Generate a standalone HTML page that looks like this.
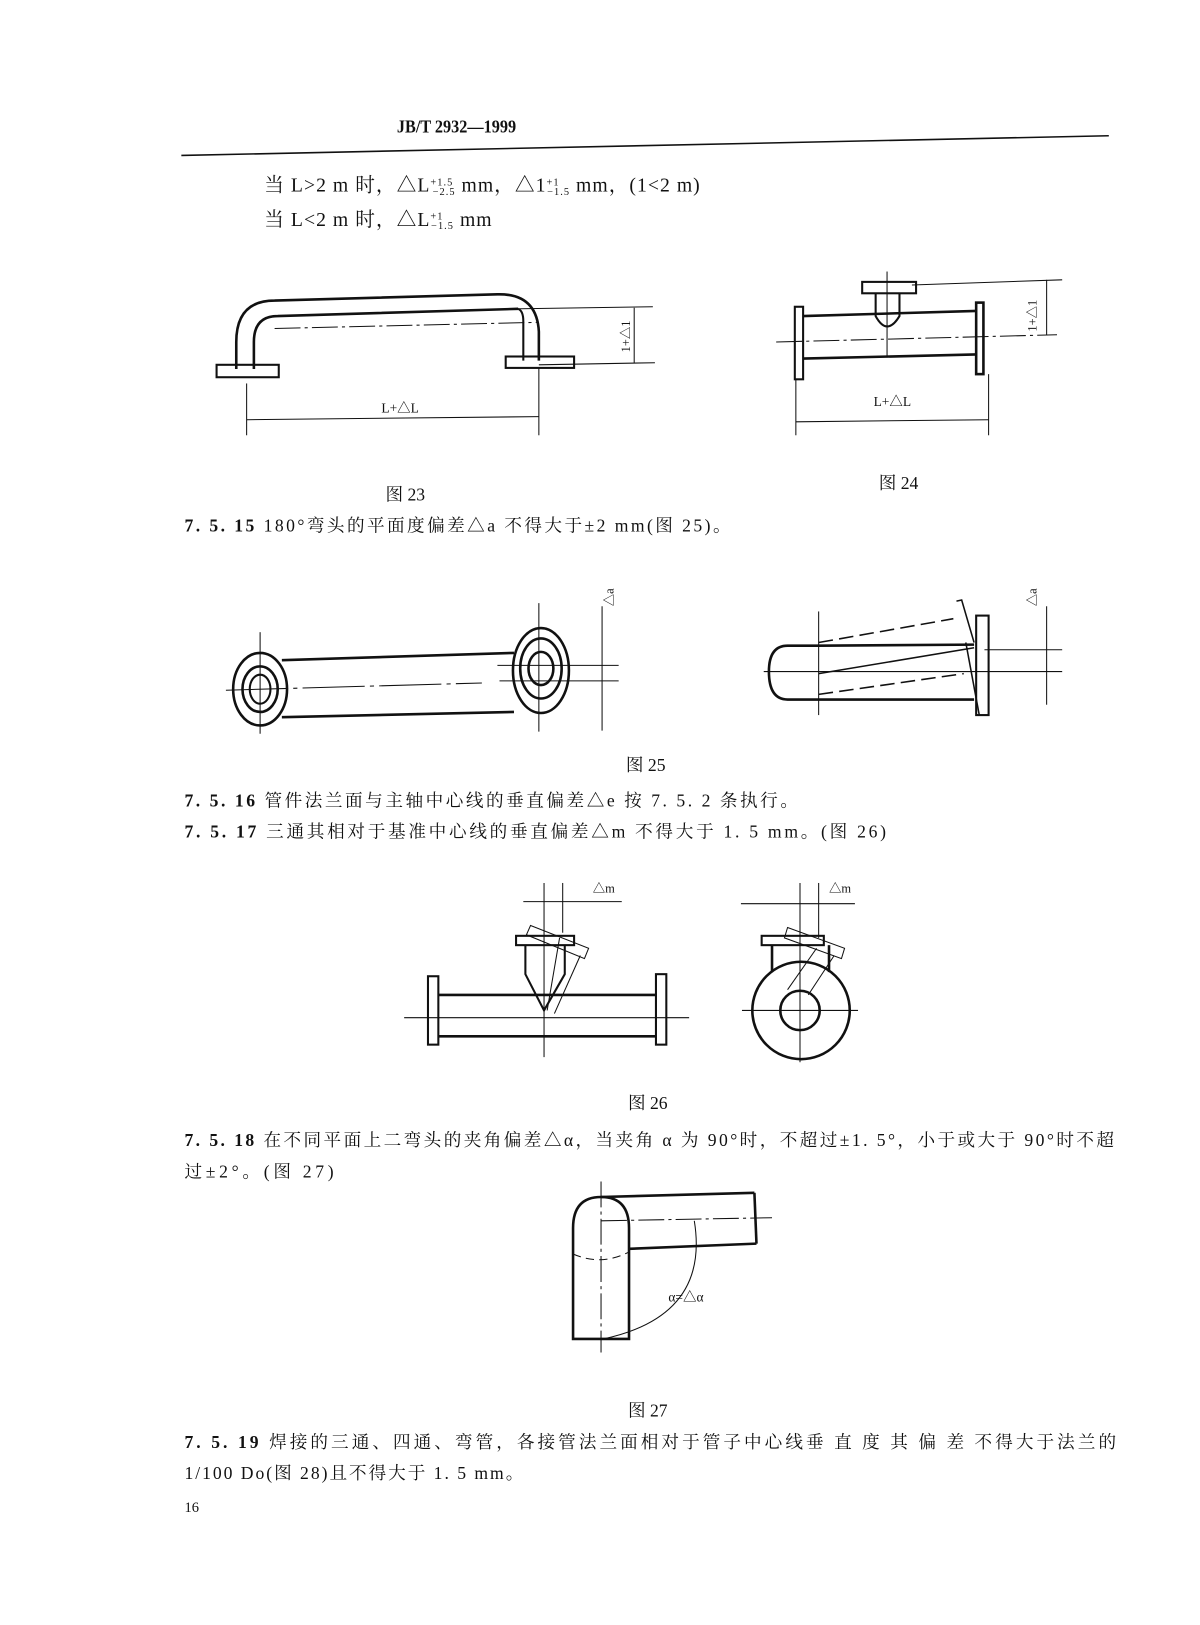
<!DOCTYPE html>
<html><head><meta charset="utf-8"><style>
html,body{margin:0;padding:0;background:#fff;}
svg{display:block}
text{font-family:"Liberation Serif","Noto Serif CJK SC","Noto Sans CJK SC",serif;fill:#111;}
</style></head><body>
<svg width="1200" height="1625" viewBox="0 0 1158 1568" preserveAspectRatio="none" xmlns="http://www.w3.org/2000/svg" stroke="#111" fill="none">
<g stroke="none" fill="#111">
<text x="383" y="128" font-size="17" font-weight="bold" textLength="115" lengthAdjust="spacingAndGlyphs">JB/T 2932—1999</text>
<text x="255" y="185" font-size="19" letter-spacing="1">当 L&gt;2 m 时，△L<tspan font-size="10" dy="-6">+1.5</tspan><tspan font-size="10" dx="-20" dy="9">−2.5</tspan><tspan dy="-3"> mm，△1</tspan><tspan font-size="10" dy="-6">+1</tspan><tspan font-size="10" dx="-12" dy="9">−1.5</tspan><tspan dy="-3"> mm，(1&lt;2 m)</tspan></text>
<text x="255" y="218" font-size="19" letter-spacing="1">当 L&lt;2 m 时，△L<tspan font-size="10" dy="-6">+1</tspan><tspan font-size="10" dx="-12" dy="9">−1.5</tspan><tspan dy="-3"> mm</tspan></text>
<text x="372" y="483" font-size="17">图 23</text>
<text x="848" y="472" font-size="17">图 24</text>
<text x="178" y="513" font-size="17" textLength="527" lengthAdjust="spacing"><tspan font-weight="bold">7. 5. 15</tspan>   180°弯头的平面度偏差△a 不得大于±2 mm(图 25)。</text>
<text x="604" y="744" font-size="17">图 25</text>
<text x="178" y="778" font-size="17" textLength="592" lengthAdjust="spacing"><tspan font-weight="bold">7. 5. 16</tspan>   管件法兰面与主轴中心线的垂直偏差△e 按 7. 5. 2 条执行。</text>
<text x="178" y="808" font-size="17" textLength="677" lengthAdjust="spacing"><tspan font-weight="bold">7. 5. 17</tspan>   三通其相对于基准中心线的垂直偏差△m 不得大于 1. 5 mm。(图 26)</text>
<text x="606" y="1070" font-size="17">图 26</text>
<text x="178" y="1106" font-size="17" textLength="897" lengthAdjust="spacing"><tspan font-weight="bold">7. 5. 18</tspan>   在不同平面上二弯头的夹角偏差△α，当夹角 α 为 90°时，不超过±1. 5°，小于或大于 90°时不超</text>
<text x="178" y="1136" font-size="17" textLength="144" lengthAdjust="spacing">过±2°。(图 27)</text>
<text x="606" y="1367" font-size="17">图 27</text>
<text x="178" y="1397" font-size="17" textLength="899" lengthAdjust="spacing"><tspan font-weight="bold">7. 5. 19</tspan>   焊接的三通、四通、弯管，各接管法兰面相对于管子中心线垂 直 度 其 偏 差 不得大于法兰的</text>
<text x="178" y="1427" font-size="17" textLength="327" lengthAdjust="spacing">1/100 Do(图 28)且不得大于 1. 5 mm。</text>
<text x="178" y="1459" font-size="14">16</text>
<text x="368" y="398" font-size="13">L+△L</text>
<text x="843" y="392" font-size="13">L+△L</text>
<text x="645" y="1256" font-size="13">α=△α</text>
<text x="572" y="861" font-size="12">△m</text>
<text x="800" y="861" font-size="12">△m</text>
</g>
<line x1="175" y1="150" x2="1070" y2="131" stroke-width="1.5"/>
<g stroke-width="2.5">
<path d="M228 356 L228 330 Q228 290 265 290 L480 284 Q518 283 520 320 L520 348"/>
<path d="M245 356 L245 330 Q245 305 268 305 L500 298"/>
<path d="M500 298 Q505 300 505 310 L505 348" stroke-width="2"/>
<rect x="209" y="352" width="60" height="12" stroke-width="2"/>
<rect x="488" y="344" width="66" height="11" stroke-width="2"/>
</g>
<g stroke-width="1">
<line x1="265" y1="317" x2="520" y2="311" stroke-dasharray="25 4 3 4"/>
<line x1="495" y1="298" x2="630" y2="296"/><line x1="520" y1="352" x2="632" y2="350"/>
<line x1="612" y1="297" x2="612" y2="350"/>
<line x1="238" y1="370" x2="238" y2="420"/><line x1="520" y1="355" x2="520" y2="420"/>
<line x1="238" y1="405" x2="520" y2="402"/>
</g>
<text x="608" y="340" font-size="12" transform="rotate(-90 608 340)" stroke="none" fill="#111" font-family="Liberation Sans">1+△1</text>
<g stroke-width="2.5">
<rect x="767" y="296" width="8" height="70" stroke-width="2"/>
<rect x="942" y="292" width="7" height="69"/>
<line x1="775" y1="305" x2="942" y2="300"/><line x1="775" y1="346" x2="942" y2="342"/>
<rect x="832" y="272" width="52" height="11" stroke-width="2"/>
<path d="M845 283 L845 305 Q856 325 868 305 L868 283" stroke-width="2"/>
</g>
<g stroke-width="1">
<line x1="749" y1="330" x2="1020" y2="323" stroke-dasharray="25 4 3 4"/>
<line x1="856" y1="262" x2="856" y2="345"/>
<line x1="880" y1="275" x2="1025" y2="270"/>
<line x1="1010" y1="270" x2="1010" y2="323"/>
<line x1="768" y1="366" x2="768" y2="420"/><line x1="954" y1="361" x2="954" y2="420"/>
<line x1="768" y1="407" x2="954" y2="405"/>
</g>
<text x="1000" y="320" font-size="12" transform="rotate(-90 1000 320)" stroke="none" fill="#111" font-family="Liberation Sans">1+△1</text>
<g stroke-width="2.5">
<ellipse cx="251" cy="665" rx="26" ry="35"/><ellipse cx="251" cy="665" rx="17" ry="22"/>
<ellipse cx="251" cy="665" rx="10" ry="14" stroke-width="2"/>
<ellipse cx="522" cy="647" rx="27" ry="41"/><ellipse cx="522" cy="645" rx="20" ry="29"/>
<ellipse cx="522" cy="645" rx="12" ry="16"/>
<line x1="272" y1="637" x2="496" y2="630"/><line x1="272" y1="692" x2="496" y2="687"/>
</g>
<g stroke-width="1">
<line x1="218" y1="666" x2="465" y2="659" stroke-dasharray="60 5 4 5"/>
<line x1="251" y1="610" x2="251" y2="708"/>
<line x1="520" y1="582" x2="520" y2="706"/>
<line x1="480" y1="642" x2="597" y2="642"/>
<line x1="482" y1="657" x2="597" y2="657"/>
<line x1="581" y1="585" x2="581" y2="705"/>
</g>
<text x="592" y="585" font-size="12" transform="rotate(-90 592 585)" stroke="none" fill="#111" font-family="Liberation Sans">△a</text>
<g stroke-width="2.5">
<path d="M790 623 L760 623 Q742 623 742 648 Q742 675 760 675 L940 675"/>
<line x1="790" y1="623" x2="940" y2="622"/>
<rect x="942" y="594" width="12" height="96" stroke-width="2"/>
<path d="M923 580 L928 579 L940 620" stroke-width="1.5"/>
</g>
<g stroke-width="1.5">
<line x1="790" y1="620" x2="920" y2="597" stroke-dasharray="14 6"/>
<line x1="790" y1="670" x2="930" y2="650" stroke-dasharray="14 6"/>
<line x1="790" y1="650" x2="940" y2="625"/>
<line x1="932" y1="620" x2="945" y2="690"/>
</g>
<g stroke-width="1">
<line x1="737" y1="648" x2="1025" y2="648"/>
<line x1="790" y1="590" x2="790" y2="690"/>
<line x1="950" y1="627" x2="1025" y2="627"/>
<line x1="1010" y1="585" x2="1010" y2="680"/>
</g>
<text x="1000" y="585" font-size="12" transform="rotate(-90 1000 585)" stroke="none" fill="#111" font-family="Liberation Sans">△a</text>
<g stroke-width="2.5">
<rect x="413" y="942" width="10" height="66" stroke-width="2"/>
<rect x="633" y="940" width="10" height="68" stroke-width="2"/>
<line x1="423" y1="960" x2="633" y2="960"/><line x1="423" y1="1000" x2="633" y2="1000"/>
<rect x="498" y="903" width="56" height="9" stroke-width="2"/>
<path d="M507 912 L507 940 L525 975 L545 940 L545 912" stroke-width="2"/>
</g>
<g stroke-width="1">
<line x1="390" y1="982" x2="665" y2="982"/>
<line x1="525" y1="852" x2="525" y2="1020"/>
<line x1="543" y1="852" x2="543" y2="900"/>
<line x1="505" y1="870" x2="600" y2="870"/>
<path d="M512 893 L568 915 L564 925 L508 902 Z"/>
<line x1="528" y1="975" x2="540" y2="905"/><line x1="535" y1="978" x2="560" y2="922"/>
</g>
<g stroke-width="2.5">
<circle cx="773" cy="975" r="47"/><circle cx="772" cy="975" r="19"/>
<line x1="745" y1="912" x2="745" y2="938"/><line x1="800" y1="912" x2="800" y2="938"/>
<rect x="735" y="903" width="60" height="9" stroke-width="2"/>
</g>
<g stroke-width="1">
<line x1="716" y1="975" x2="828" y2="975"/>
<line x1="772" y1="852" x2="772" y2="1025"/>
<line x1="790" y1="852" x2="790" y2="905"/>
<line x1="715" y1="872" x2="825" y2="872"/>
<path d="M760 895 L815 915 L812 925 L757 905 Z"/>
<line x1="760" y1="955" x2="788" y2="915"/><line x1="780" y1="960" x2="805" y2="922"/>
</g>
<g stroke-width="2.5">
<path d="M553 1292 L553 1185 Q553 1155 580 1155 Q607 1155 607 1185 L607 1292 Z"/>
<line x1="580" y1="1155" x2="728" y2="1151"/>
<line x1="607" y1="1205" x2="730" y2="1200"/>
<line x1="728" y1="1151" x2="730" y2="1200"/>
</g>
<g stroke-width="1">
<path d="M553 1210 Q580 1222 607 1208" stroke-dasharray="8 5"/>
<line x1="580" y1="1178" x2="745" y2="1175" stroke-dasharray="25 4 3 4"/>
<line x1="580" y1="1140" x2="580" y2="1305" stroke-dasharray="25 4 3 4"/>
<path d="M670 1178 Q685 1270 582 1292"/>
</g>
</svg>
</body></html>
